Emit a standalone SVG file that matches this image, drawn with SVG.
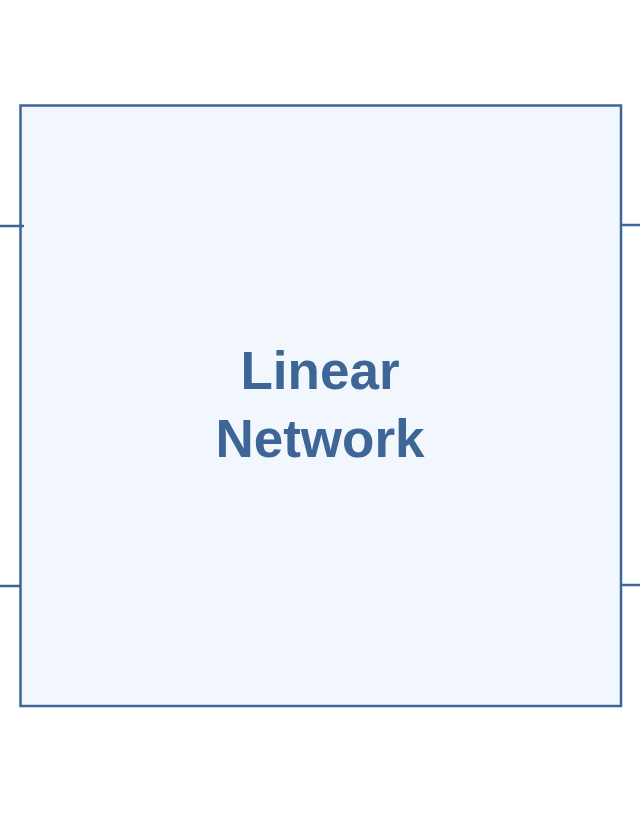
<svg xmlns="http://www.w3.org/2000/svg" width="640" height="813" viewBox="0 0 640 813">
<style>
.box{fill:#f2f7fe;stroke:#3d6595;stroke-width:2.5}
.wire{stroke:#3d6595;stroke-width:2.5;fill:none}
.lbl{font-family:"Liberation Sans",Arial,sans-serif;font-weight:bold;font-size:53px;fill:#3d6595;text-anchor:middle}
</style>
<rect width="640" height="813" fill="#ffffff"/>
<g id="linear-network">
<rect class="box" x="20.5" y="105.5" width="600.5" height="600.5"/>
<text class="lbl" x="320" y="389">Linear</text>
<text class="lbl" x="320" y="457">Network</text>
</g>
<g id="connectors">
<line class="wire" x1="0" y1="226" x2="24" y2="226"/>
<line class="wire" x1="0" y1="586" x2="20" y2="586"/>
<line class="wire" x1="622" y1="225" x2="640" y2="225"/>
<line class="wire" x1="622" y1="585" x2="640" y2="585"/>
</g>
</svg>
